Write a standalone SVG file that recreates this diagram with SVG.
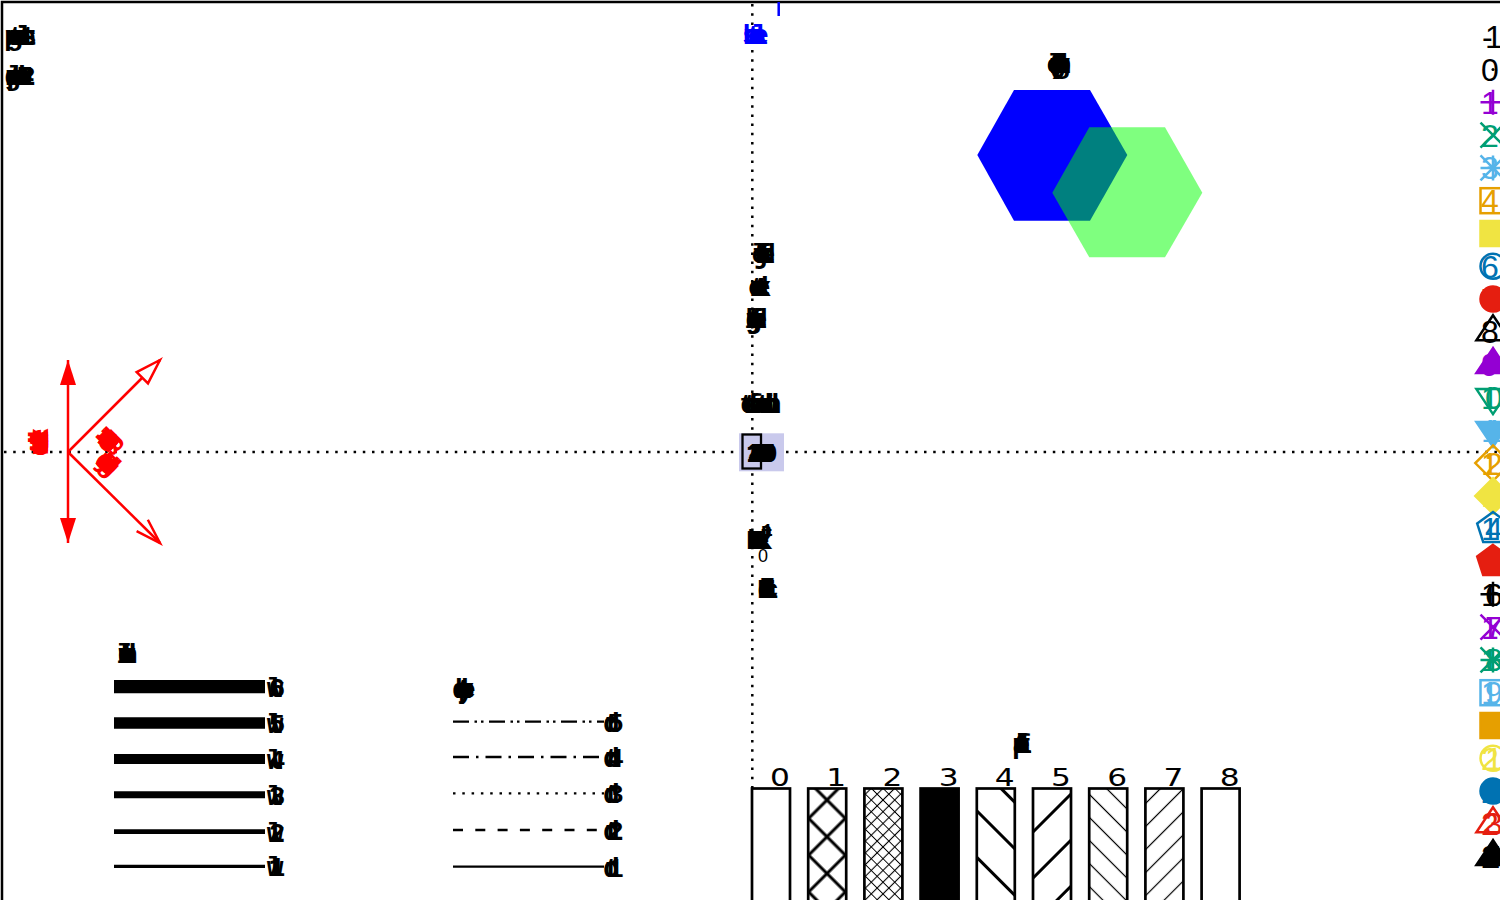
<svg xmlns="http://www.w3.org/2000/svg" width="1500" height="900" viewBox="0 0 1500 900">
<style>
text{font-family:"Liberation Sans",Arial,sans-serif;font-size:28px}
.g{font-family:"Liberation Mono","DejaVu Sans Mono",monospace;font-weight:bold;font-size:28px}
.dig{font-family:"DejaVu Sans","Liberation Sans",sans-serif;font-size:25px;text-anchor:middle}
.pl{font-size:32px}
.sm{font-size:18px}
.ax{fill:none;stroke:#000;stroke-width:2.5;stroke-dasharray:2.5 6.7}
.red{fill:none;stroke:#f00;stroke-width:2.5}
.lw{stroke:#000;fill:none}
.dt{stroke:#000;stroke-width:2.3;fill:none}
.bx{stroke:#000;stroke-width:2.7}
.o{fill:none;stroke:currentColor;stroke-width:2.5}
.f{fill:currentColor;stroke:currentColor;stroke-width:2.5}
</style>
<defs>
<marker id="hf" markerUnits="userSpaceOnUse" orient="auto" overflow="visible" markerWidth="1" markerHeight="1"><path d="M0,0L-25,-8L-25,8Z" fill="#f00"/></marker>
<marker id="ho" markerUnits="userSpaceOnUse" orient="auto" overflow="visible" markerWidth="1" markerHeight="1"><path d="M0,0L-25,-8L-25,8Z" fill="#fff" stroke="#f00" stroke-width="2.5"/></marker>
<marker id="hv" markerUnits="userSpaceOnUse" orient="auto" overflow="visible" markerWidth="1" markerHeight="1"><path d="M-25,-8L0,0L-25,8" fill="none" stroke="#f00" stroke-width="2.5"/></marker>
<pattern id="pat1" patternUnits="userSpaceOnUse" x="-13" y="-13" width="26" height="26" patternTransform="translate(827,800) rotate(45)"><rect width="26" height="26" fill="#fff"/><path d="M0,13H26M13,0V26" stroke="#000" stroke-width="3"/></pattern>
<pattern id="pat2" patternUnits="userSpaceOnUse" x="-4.15" y="-4.15" width="8.3" height="8.3" patternTransform="translate(883,800) rotate(45)"><rect width="8.3" height="8.3" fill="#fff"/><path d="M0,4.15H8.3M4.15,0V8.3" stroke="#000" stroke-width="1.1"/></pattern>
<pattern id="pat4" patternUnits="userSpaceOnUse" x="0" y="-16.45" width="20" height="32.9" patternTransform="translate(990,824) rotate(45)"><rect width="20" height="32.9" fill="#fff"/><path d="M0,16.45H20" stroke="#000" stroke-width="3"/></pattern>
<pattern id="pat5" patternUnits="userSpaceOnUse" x="0" y="-16.3" width="20" height="32.6" patternTransform="translate(1035,830) rotate(-45)"><rect width="20" height="32.6" fill="#fff"/><path d="M0,16.3H20" stroke="#000" stroke-width="3"/></pattern>
<pattern id="pat6" patternUnits="userSpaceOnUse" x="0" y="-8.15" width="20" height="16.3" patternTransform="translate(1092,797) rotate(45)"><rect width="20" height="16.3" fill="#fff"/><path d="M0,8.15H20" stroke="#000" stroke-width="1.2"/></pattern>
<pattern id="pat7" patternUnits="userSpaceOnUse" x="0" y="-8.15" width="20" height="16.3" patternTransform="translate(1147,802) rotate(-45)"><rect width="20" height="16.3" fill="#fff"/><path d="M0,8.15H20" stroke="#000" stroke-width="1.2"/></pattern>
<path id="s1" d="M-12.5,0H12.5M0,-12.5V12.5"/>
<path id="s2" d="M-12.5,-12.5L12.5,12.5M12.5,-12.5L-12.5,12.5"/>
<path id="s3" d="M-12.5,0H12.5M0,-12.5V12.5M-12.5,-12.5L12.5,12.5M12.5,-12.5L-12.5,12.5"/>
<rect id="s4" x="-12.5" y="-12.5" width="25" height="25"/>
<circle id="s6" cx="0" cy="0" r="12.5"/>
<path id="s8" d="M0,-16.6L-16.6,8.4L16.6,8.4Z"/>
<path id="s10" d="M0,16.6L-16.6,-8.4L16.6,-8.4Z"/>
<path id="s12" d="M0,-17.7L17.7,0L0,17.7L-17.7,0Z"/>
<path id="s14" d="M0,-16.6L15.8,-5.1L9.8,13.4L-9.8,13.4L-15.8,-5.1Z"/>
</defs>
<rect width="1500" height="900" fill="#fff"/>

<g id="axes">
<path class="ax" d="M752.3,4V900"/>
<path class="ax" d="M4,452H1500"/>
</g>
<g id="border"><rect x="2" y="2" width="1502" height="902" fill="none" stroke="#000" stroke-width="2.5"/></g>

<g id="title">
<text class="g" x="4" y="45" letter-spacing="-15.74">png terminal test</text>
<text class="g" x="4" y="85" letter-spacing="-16.05">gnuplot version 5.4.2</text>
</g>

<g id="ticscale">
<path d="M778.7,2V16" stroke="#00f" stroke-width="2.5"/>
<text class="g" x="742" y="44" fill="#00f" letter-spacing="-15.97">show ticscale</text>
</g>

<g id="justify">
<text class="g" x="751" y="263" letter-spacing="-16.18">left justified</text>
<text class="g" x="748" y="296" letter-spacing="-16.22">centre+d text</text>
<text class="g" x="744" y="328" letter-spacing="-16.3">right justified</text>
</g>

<g id="charwidth">
<text class="g" x="739" y="413" letter-spacing="-15.63">test of character width:</text>
<rect x="739" y="433.3" width="45" height="38" fill="#c9c9ec"/>
<rect x="742.5" y="434.5" width="18.5" height="34" fill="none" stroke="#000" stroke-width="2.3"/>
<text class="g" x="746" y="462" letter-spacing="-16.01">12345678901234567890</text>
</g>

<g id="enhanced">
<text class="g" x="746" y="549" letter-spacing="-16.13">Enhanced text: x</text>
<text class="sm" x="758" y="562">0</text>
<text class="g sm" x="761" y="536" letter-spacing="-10.3">n+1</text>
<text class="g" x="757" y="598" letter-spacing="-16.24">BoldItalic</text>
</g>

<g id="connectors">
<path class="red" d="M68,452V360" marker-end="url(#hf)"/>
<path class="red" d="M68,452V543" marker-end="url(#hf)"/>
<path class="red" d="M68,452L160,360" marker-end="url(#ho)"/>
<path class="red" d="M68,452L160,543" marker-end="url(#hv)"/>
</g>

<g id="rotated" fill="#f00">
<text class="g" transform="translate(48,457) rotate(-90)" letter-spacing="-16.15">rotated ce+ntred text</text>
<text class="g" transform="translate(106,455) rotate(-45)" letter-spacing="-16.4">rotated by +45 deg</text>
<text class="g" transform="translate(93,461) rotate(45)" letter-spacing="-16.4">rotated by -45 deg</text>
</g>

<g id="polygons">
<text class="g" x="1046" y="73" letter-spacing="-16.39">(color) filled polygon:</text>
<polygon points="1014,90 1090,90 1127.3,155 1090,220.7 1014,220.7 977.3,155" fill="#00f"/>
<polygon points="1089.3,127.3 1165,127.3 1202.3,192.7 1165,257.3 1089.3,257.3 1052.3,192.7" fill="#0f0" fill-opacity="0.5"/>
</g>

<g id="linewidth">
<text class="g" x="116" y="663" letter-spacing="-16.18">linewidth</text>
<path class="lw" d="M114,866.3H265" stroke-width="3.3"/>
<path class="lw" d="M114,831.7H265" stroke-width="4.7"/>
<path class="lw" d="M114,794.8H265" stroke-width="7"/>
<path class="lw" d="M114,759H265" stroke-width="10"/>
<path class="lw" d="M114,723H265" stroke-width="11.3"/>
<path class="lw" d="M114,686.7H265" stroke-width="13.3"/>
<text class="g" x="266" y="876.3" letter-spacing="-16">lw 1</text>
<text class="g" x="266" y="841.7" letter-spacing="-16">lw 2</text>
<text class="g" x="266" y="804.8" letter-spacing="-16">lw 3</text>
<text class="g" x="266" y="769" letter-spacing="-16">lw 4</text>
<text class="g" x="266" y="733" letter-spacing="-16">lw 5</text>
<text class="g" x="266" y="696.7" letter-spacing="-16">lw 6</text>
</g>

<g id="dashtype">
<text class="g" x="452" y="698" letter-spacing="-15.8">dashtype</text>
<path class="dt" d="M453,866.7H604"/>
<path class="dt" d="M453,830H604" stroke-dasharray="10 12.3"/>
<path class="dt" d="M453,793.3H604" stroke-dasharray="2.5 6.8"/>
<path class="dt" d="M453,757H604" stroke-dasharray="16 7 2.5 7"/>
<path class="dt" d="M453,721.7H604" stroke-dasharray="16 5.5 2.5 4 2.5 5.5"/>
<text class="g" x="603" y="876.7" letter-spacing="-15.5">dt 1</text>
<text class="g" x="603" y="840" letter-spacing="-15.5">dt 2</text>
<text class="g" x="603" y="803.3" letter-spacing="-15.5">dt 3</text>
<text class="g" x="603" y="767" letter-spacing="-15.5">dt 4</text>
<text class="g" x="603" y="731.7" letter-spacing="-15.5">dt 5</text>
</g>

<g id="patterns">
<text class="g" x="1012" y="753" letter-spacing="-16.5">pattern fill</text>
<rect class="bx" x="752" y="788.5" width="38" height="120" fill="#fff"/>
<rect class="bx" x="808.2" y="788.5" width="38" height="120" fill="url(#pat1)"/>
<rect class="bx" x="864.4" y="788.5" width="38" height="120" fill="url(#pat2)"/>
<rect class="bx" x="920.6" y="788.5" width="38" height="120" fill="#000"/>
<rect class="bx" x="976.8" y="788.5" width="38" height="120" fill="url(#pat4)"/>
<rect class="bx" x="1033" y="788.5" width="38" height="120" fill="url(#pat5)"/>
<rect class="bx" x="1089.2" y="788.5" width="38" height="120" fill="url(#pat6)"/>
<rect class="bx" x="1145.4" y="788.5" width="38" height="120" fill="url(#pat7)"/>
<rect class="bx" x="1201.6" y="788.5" width="38" height="120" fill="#fff"/>
<text class="dig" transform="translate(780,786) scale(1.25,1)">0</text>
<text class="dig" transform="translate(836.2,786) scale(1.25,1)">1</text>
<text class="dig" transform="translate(892.4,786) scale(1.25,1)">2</text>
<text class="dig" transform="translate(948.6,786) scale(1.25,1)">3</text>
<text class="dig" transform="translate(1004.8,786) scale(1.25,1)">4</text>
<text class="dig" transform="translate(1061,786) scale(1.25,1)">5</text>
<text class="dig" transform="translate(1117.2,786) scale(1.25,1)">6</text>
<text class="dig" transform="translate(1173.4,786) scale(1.25,1)">7</text>
<text class="dig" transform="translate(1229.6,786) scale(1.25,1)">8</text>
</g>

<g id="points">
<g id="pt-1"><text class="pl" x="1482 1485" y="48.2">-1</text></g>
<g id="pt0"><circle cx="1493" cy="69.5" r="1.5" fill="#000"/><text class="pl" x="1481" y="81">0</text></g>
<g id="pt1" color="#9400d3" fill="#9400d3"><use href="#s1" x="1493" y="102.3" class="o"/><text class="pl" x="1481" y="113.8">1</text></g>
<g id="pt2" color="#009e73" fill="#009e73"><use href="#s2" x="1493" y="135.1" class="o"/><text class="pl" x="1481" y="146.6">2</text></g>
<g id="pt3" color="#56b4e9" fill="#56b4e9"><use href="#s3" x="1493" y="167.9" class="o"/><text class="pl" x="1481" y="179.4">3</text></g>
<g id="pt4" color="#e69f00" fill="#e69f00"><use href="#s4" x="1493" y="200.7" class="o"/><text class="pl" x="1481" y="212.2">4</text></g>
<g id="pt5" color="#f0e442" fill="#f0e442"><use href="#s4" x="1493" y="233.5" class="f"/><text class="pl" x="1481" y="245">5</text></g>
<g id="pt6" color="#0072b2" fill="#0072b2"><use href="#s6" x="1493" y="266.3" class="o"/><text class="pl" x="1481" y="277.8">6</text></g>
<g id="pt7" color="#e51e10" fill="#e51e10"><use href="#s6" x="1493" y="299.1" class="f"/><text class="pl" x="1481" y="310.6">7</text></g>
<g id="pt8" color="#000" fill="#000"><use href="#s8" x="1493" y="331.9" class="o"/><text class="pl" x="1481" y="343.4">8</text></g>
<g id="pt9" color="#9400d3" fill="#9400d3"><use href="#s8" x="1493" y="364.7" class="f"/><text class="pl" x="1481" y="376.2">9</text></g>
<g id="pt10" color="#009e73" fill="#009e73"><use href="#s10" x="1493" y="397.5" class="o"/><text class="pl" x="1481 1485" y="409">10</text></g>
<g id="pt11" color="#56b4e9" fill="#56b4e9"><use href="#s10" x="1493" y="430.3" class="f"/><text class="pl" x="1481 1485" y="441.8">11</text></g>
<g id="pt12" color="#e69f00" fill="#e69f00"><use href="#s12" x="1493" y="463.1" class="o"/><text class="pl" x="1481 1485" y="474.6">12</text></g>
<g id="pt13" color="#f0e442" fill="#f0e442"><use href="#s12" x="1493" y="495.9" class="f"/><text class="pl" x="1481 1485" y="507.4">13</text></g>
<g id="pt14" color="#0072b2" fill="#0072b2"><use href="#s14" x="1493" y="528.7" class="o"/><text class="pl" x="1481 1485" y="540.2">14</text></g>
<g id="pt15" color="#e51e10" fill="#e51e10"><use href="#s14" x="1493" y="561.5" class="f"/><text class="pl" x="1481 1485" y="573">15</text></g>
<g id="pt16" color="#000" fill="#000"><use href="#s1" x="1493" y="594.3" class="o"/><text class="pl" x="1481 1485" y="605.8">16</text></g>
<g id="pt17" color="#9400d3" fill="#9400d3"><use href="#s2" x="1493" y="627.1" class="o"/><text class="pl" x="1481 1485" y="638.6">17</text></g>
<g id="pt18" color="#009e73" fill="#009e73"><use href="#s3" x="1493" y="659.9" class="o"/><text class="pl" x="1481 1485" y="671.4">18</text></g>
<g id="pt19" color="#56b4e9" fill="#56b4e9"><use href="#s4" x="1493" y="692.7" class="o"/><text class="pl" x="1481 1485" y="704.2">19</text></g>
<g id="pt20" color="#e69f00" fill="#e69f00"><use href="#s4" x="1493" y="725.5" class="f"/><text class="pl" x="1481 1485" y="737">20</text></g>
<g id="pt21" color="#f0e442" fill="#f0e442"><use href="#s6" x="1493" y="758.3" class="o"/><text class="pl" x="1481 1485" y="769.8">21</text></g>
<g id="pt22" color="#0072b2" fill="#0072b2"><use href="#s6" x="1493" y="791.1" class="f"/><text class="pl" x="1481 1485" y="802.6">22</text></g>
<g id="pt23" color="#e51e10" fill="#e51e10"><use href="#s8" x="1493" y="823.9" class="o"/><text class="pl" x="1481 1485" y="835.4">23</text></g>
<g id="pt24" color="#000" fill="#000"><use href="#s8" x="1493" y="856.7" class="f"/><text class="pl" x="1481 1485" y="868.2">24</text></g>
</g>
</svg>
